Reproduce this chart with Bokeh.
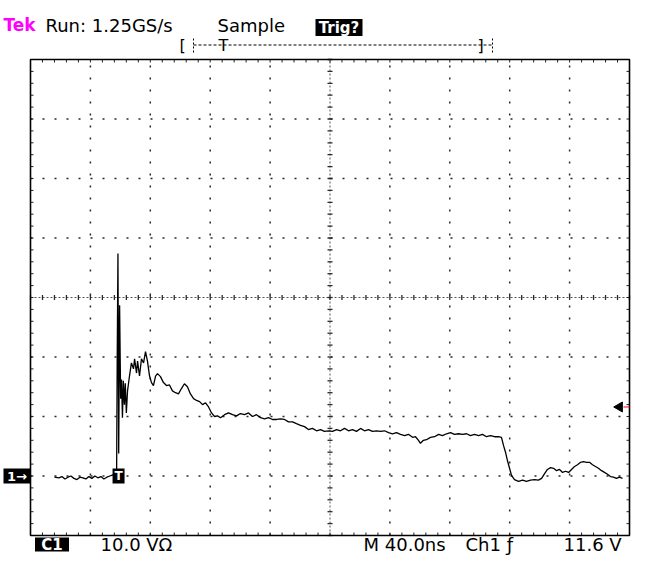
import math
from bokeh.plotting import figure
from bokeh.models import Range1d, Label
from bokeh.embed import file_html
from bokeh.resources import INLINE

# ---------------- data ----------------
# time in ns (M 40.0 ns/div, 10 div), voltage in V (10.0 V/div, ground at 0)
t_ns = [16, 19, 21, 23, 25, 27, 29, 31, 33, 35, 37, 39, 41, 43, 45, 47, 49, 51, 53, 55, 57,
        57.5, 57.9, 58.4, 58.9, 59.5, 60.2, 60.8, 61.4, 62.0, 62.7, 63.3, 64.0, 64.8,
        66.1, 67.4, 68.8, 69.5, 70.8, 71.5, 72.8, 74.1, 75.5, 76.8, 78.1, 79.5, 80.8,
        82.1, 83.5, 84.8, 86.8, 88.8, 90.8, 92.8, 94.8, 96.8, 98.8, 100.8, 102.8, 104.8,
        106.8, 108.9, 110.9, 112.9, 114.9, 116.9, 118.9, 120.9, 122.9, 124.9, 126.9,
        129.6, 132.2, 134.9, 137.6, 140.2, 142.9, 145.6, 148.2, 150.9, 153.6, 156.3,
        158.9, 161.6, 164.3, 166.9, 169.6, 172.3, 175.0, 177.6, 180.3, 183.0, 185.6,
        188.3, 191.0, 193.7, 196.3, 199.0, 201.7, 204.4, 207.0, 209.7, 212.4, 215.0,
        217.7, 220.4, 223.0, 225.7, 228.4, 231.1, 233.7, 236.4, 239.1, 241.7, 244.4,
        247.1, 249.8, 252.4, 255.1, 257.1, 259.1, 260.4, 262.4, 264.4, 267.1, 269.8,
        272.5, 275.1, 277.8, 280.5, 283.1, 285.8, 288.5, 291.2, 293.8, 296.5, 299.2,
        301.8, 304.5, 307.2, 309.9, 312.5, 314.5, 315.9, 317.2, 318.5, 319.9, 321.2,
        323.2, 325.9, 328.6, 331.2, 333.9, 336.6, 339.2, 341.3, 343.3, 345.2, 347.3,
        349.3, 351.3, 353.3, 355.3, 357.3, 359.3, 361.3, 363.3, 365.3, 367.3, 369.3,
        371.3, 373.3, 375.3, 377.3, 379.3, 381.3, 383.3, 385.3, 387.3, 389.3, 391.3,
        393.3, 395.3]
volts = [-0.2, -0.3, -0.1, -0.5, -0.2, 0.0, -0.4, -0.6, -0.2, -0.3, -0.5, -0.1, -0.4, 0.0,
         -0.3, -0.1, -0.5, -0.2, 0.0, 0.2, -0.2,
         0.0, 19.7, 37.4, 3.8, 28.7, 13.0, 16.2, 9.8, 16.0, 12.0, 15.6, 10.6, 14.3,
         16.8, 19.0, 18.0, 19.7, 17.3, 19.3, 16.8, 19.7, 19.0, 20.9, 19.3, 16.8, 15.7,
         15.2, 16.8, 17.2, 16.7, 15.7, 15.2, 15.3, 14.3, 14.0, 13.8, 14.7, 15.5, 15.0,
         13.8, 13.0, 12.7, 12.5, 12.0, 12.3, 11.6, 10.6, 10.0, 10.1, 9.8,
         10.3, 10.6, 10.3, 10.1, 10.5, 10.3, 10.6, 10.0, 10.3, 9.8, 9.6,
         9.8, 9.5, 9.5, 9.6, 9.5, 9.1, 9.1, 8.8, 8.5, 8.3, 7.8,
         8.0, 7.6, 7.8, 7.5, 7.6, 7.5, 7.8, 7.6, 8.0, 7.6, 7.8,
         7.5, 8.0, 7.6, 7.8, 7.5, 7.6, 7.5, 7.6, 7.3, 7.1, 7.3,
         7.0, 6.8, 7.0, 6.5, 6.6, 6.0, 5.5, 6.0, 6.1, 6.5, 6.6,
         7.0, 6.8, 7.1, 7.3, 7.0, 7.1, 7.0, 7.1, 6.8, 7.0, 6.8,
         7.0, 6.6, 6.8, 6.6, 6.6, 6.5, 5.1, 4.0, 2.6, 1.3, 0.1,
         -0.6, -0.9, -0.7, -0.9, -0.7, -0.6, -0.7, -0.4, 0.4, 1.1, 1.4,
         1.3, 0.9, 1.1, 0.6, 0.8, 0.6, 1.1, 1.6, 1.9, 2.3, 2.4,
         2.3, 2.3, 1.9, 1.6, 1.3, 0.9, 0.6, 0.3, -0.1, -0.2, -0.4,
         -0.2, -0.4]

trigger_time = [58.8]
trigger_level = [11.6]
ground_level = [0]

# graticule: 10 x 8 divisions
t_min, t_max = 0, 400
v_min, v_max = -10, 70
x_div_lines = [40, 80, 120, 160, 240, 280, 320, 360]
y_div_lines = [0, 10, 20, 40, 50, 60]
x_center = 200
y_center = 30

header_texts = ["Tek", "Run: 1.25GS/s", "Sample", "Trig?"]
footer_texts = ["C1", "10.0 V\u03a9", "M 40.0ns", "Ch1 \u0192", "11.6 V"]

FONT = "DejaVu Sans"

# ---------------- layout helpers (canvas pixel -> data) ----------------
W, H = 642, 558
FRAME_L, FRAME_R, FRAME_T, FRAME_B = 30, 629, 59, 535


def X(px):
    return t_min + (px - FRAME_L) * (t_max - t_min) / (FRAME_R - FRAME_L)


def Y(py):
    return v_min + (FRAME_B - py) * (v_max - v_min) / (FRAME_B - FRAME_T)


p = figure(width=W, height=H, x_range=Range1d(X(0), X(W)), y_range=Range1d(Y(H), Y(0)),
           output_backend="svg", toolbar_location=None,
           min_border=0, x_axis_location=None, y_axis_location=None)
p.grid.visible = False
p.outline_line_color = None
p.background_fill_color = "white"
p.border_fill_color = "white"

GRID = "#2a2a2a"

# dotted division lines
p.segment(x0=x_div_lines, y0=[v_min] * len(x_div_lines), x1=x_div_lines,
          y1=[v_max] * len(x_div_lines), line_color=GRID, line_dash="2 10", line_width=1.5)
p.segment(x0=[t_min] * len(y_div_lines), y0=y_div_lines, x1=[t_max] * len(y_div_lines),
          y1=y_div_lines, line_color=GRID, line_dash="2 10", line_width=1.5)

# centre lines with small ticks
p.segment(x0=[x_center], y0=[v_min], x1=[x_center], y1=[v_max], line_color="#555555",
          line_dash="2 2", line_width=1)
p.segment(x0=[t_min], y0=[y_center], x1=[t_max], y1=[y_center], line_color="#555555",
          line_dash="2 2", line_width=1)
cx = [t_min + i * 8 for i in range(51)]
cy = [v_min + i * 2 for i in range(41)]
p.scatter(x=cx, y=[y_center] * len(cx), marker="dash", angle=math.pi / 2, size=5,
          color=GRID, line_width=1.3)
p.scatter(x=[x_center] * len(cy), y=cy, marker="dash", size=5, color=GRID, line_width=1.3)

# edge ticks (inside the graticule)
p.segment(x0=cx, y0=[v_max] * len(cx), x1=cx, y1=[v_max - 0.5] * len(cx),
          line_color="#222222", line_width=1)
p.segment(x0=cx, y0=[v_min] * len(cx), x1=cx, y1=[v_min + 0.5] * len(cx),
          line_color="#222222", line_width=1)
p.segment(x0=[t_min] * len(cy), y0=cy, x1=[t_min + 2] * len(cy), y1=cy,
          line_color="#222222", line_width=1)
p.segment(x0=[t_max] * len(cy), y0=cy, x1=[t_max - 2] * len(cy), y1=cy,
          line_color="#222222", line_width=1)

# graticule outline
p.quad(left=[t_min], right=[t_max], bottom=[v_min], top=[v_max], fill_color=None,
       line_color="black", line_width=1.6)

# waveform
p.line(t_ns, volts, color="black", line_width=1.3)

# trigger level marker on right edge
p.scatter(x=[X(619)], y=trigger_level, marker="triangle", angle=math.pi / 2, size=10,
          color="black")
p.segment(x0=[X(623)], y0=trigger_level, x1=[t_max], y1=trigger_level, line_color="red",
          line_width=1)


def lab(px, py, text, size=18, color="black", bold=False, align="left"):
    l = Label(x=X(px), y=Y(py), text=text, text_font=FONT, text_font_size=f"{size}px",
              text_color=color, text_font_style="bold" if bold else "normal",
              text_align=align, text_baseline="middle")
    p.add_layout(l)
    return l


def box(cx_px, cy_px, w, h):
    p.rect(x=[X(cx_px)], y=[Y(cy_px)], width=w, height=h, width_units="screen",
           height_units="screen", fill_color="black", line_color=None)


# header
lab(3, 24.5, header_texts[0], size=17, color="#ff00ff", bold=True)
lab(45, 24.5, header_texts[1])
lab(217, 24.5, header_texts[2])
box(338.5, 27, 47, 17)
lab(338.5, 27, header_texts[3], size=15, color="white", bold=True, align="center")

# record-length bar
lab(179, 45, "[", size=16)
lab(477, 45, "]", size=16)
lab(223, 44.5, "T", size=16, align="center")
p.segment(x0=[X(193)], y0=[Y(44.5)], x1=[X(492)], y1=[Y(44.5)], line_color="black",
          line_dash="3 2", line_width=1)
p.segment(x0=[X(193), X(492)], y0=[Y(38), Y(38)], x1=[X(193), X(492)], y1=[Y(53), Y(53)],
          line_color="black", line_dash="2 2", line_width=1)

# ground marker (left of graticule) and trigger-position marker
p.rect(x=[X(16.5)], y=ground_level, width=27, height=15, width_units="screen",
       height_units="screen", fill_color="black", line_color=None)
p.add_layout(Label(x=X(16.5), y=ground_level[0], text="1\u2192", text_font=FONT,
                   text_font_size="13px", text_color="white", text_font_style="bold",
                   text_align="center", text_baseline="middle"))
p.rect(x=trigger_time, y=ground_level, width=12, height=15, width_units="screen",
       height_units="screen", fill_color="black", line_color=None)
p.add_layout(Label(x=trigger_time[0], y=ground_level[0], text="T", text_font=FONT,
                   text_font_size="12px", text_color="white", text_font_style="bold",
                   text_align="center", text_baseline="middle"))

# footer
box(51.5, 544, 34, 14)
lab(51.5, 544, footer_texts[0], size=15, color="white", bold=True, align="center")
lab(100, 543.5, footer_texts[1])
lab(363, 543.5, footer_texts[2])
lab(465, 543.5, footer_texts[3])
lab(563, 543.5, footer_texts[4])

open("out.html", "w").write(file_html(p, INLINE))
